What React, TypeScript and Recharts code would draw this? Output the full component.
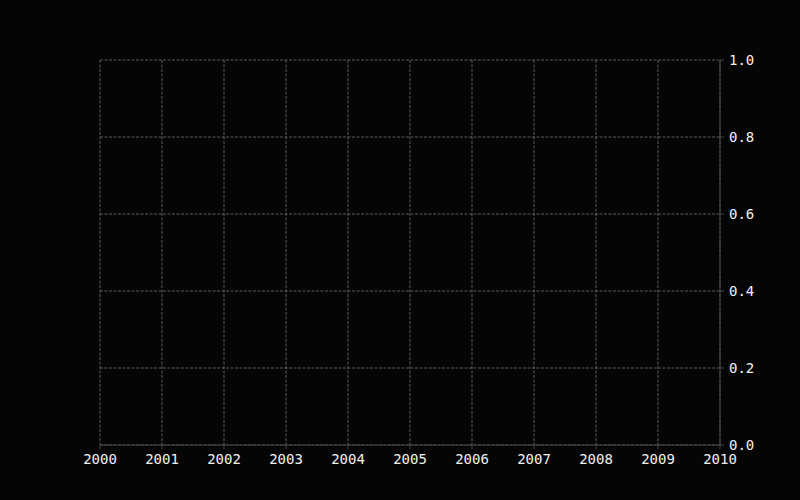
import { LineChart, Line, XAxis, YAxis, CartesianGrid } from "recharts"

const years = [2000, 2001, 2002, 2003, 2004, 2005, 2006, 2007, 2008, 2009, 2010]
const yTicks = [0, 0.2, 0.4, 0.6, 0.8, 1.0]
// the reference plot has no visible series
const values: (number | null)[] = years.map(() => null)

const data = years.map((year, i) => ({ year, value: values[i] }))

const font = "'DejaVu Sans Mono', monospace"

export default function App() {
  return (
    <div style={{ position: "fixed", left: 0, top: 0, width: 800, height: 500, background: "#050505" }}>
      <LineChart width={800} height={500} data={data} margin={{ top: 60, right: 0, bottom: 0, left: 100 }}>
        <CartesianGrid stroke="#808080" strokeWidth={0.7} strokeDasharray="3 1.5" />
        <XAxis
          dataKey="year"
          type="number"
          domain={[2000, 2010]}
          ticks={years}
          height={55}
          stroke="#444"
          tickSize={4}
          tickMargin={5}
          tick={{ fill: "#f0f0f0", fontSize: 14, fontFamily: font }}
          interval={0}
          allowDataOverflow
        />
        <YAxis
          dataKey="value"
          orientation="right"
          type="number"
          domain={[0, 1]}
          ticks={yTicks}
          width={80}
          stroke="#444"
          tickSize={4}
          tickMargin={5}
          tick={{ fill: "#f0f0f0", fontSize: 14, fontFamily: font }}
          tickFormatter={(v: number) => v.toFixed(1)}
          interval={0}
          allowDataOverflow
        />
        <Line dataKey="value" stroke="none" dot={false} isAnimationActive={false} />
      </LineChart>
    </div>
  )
}
